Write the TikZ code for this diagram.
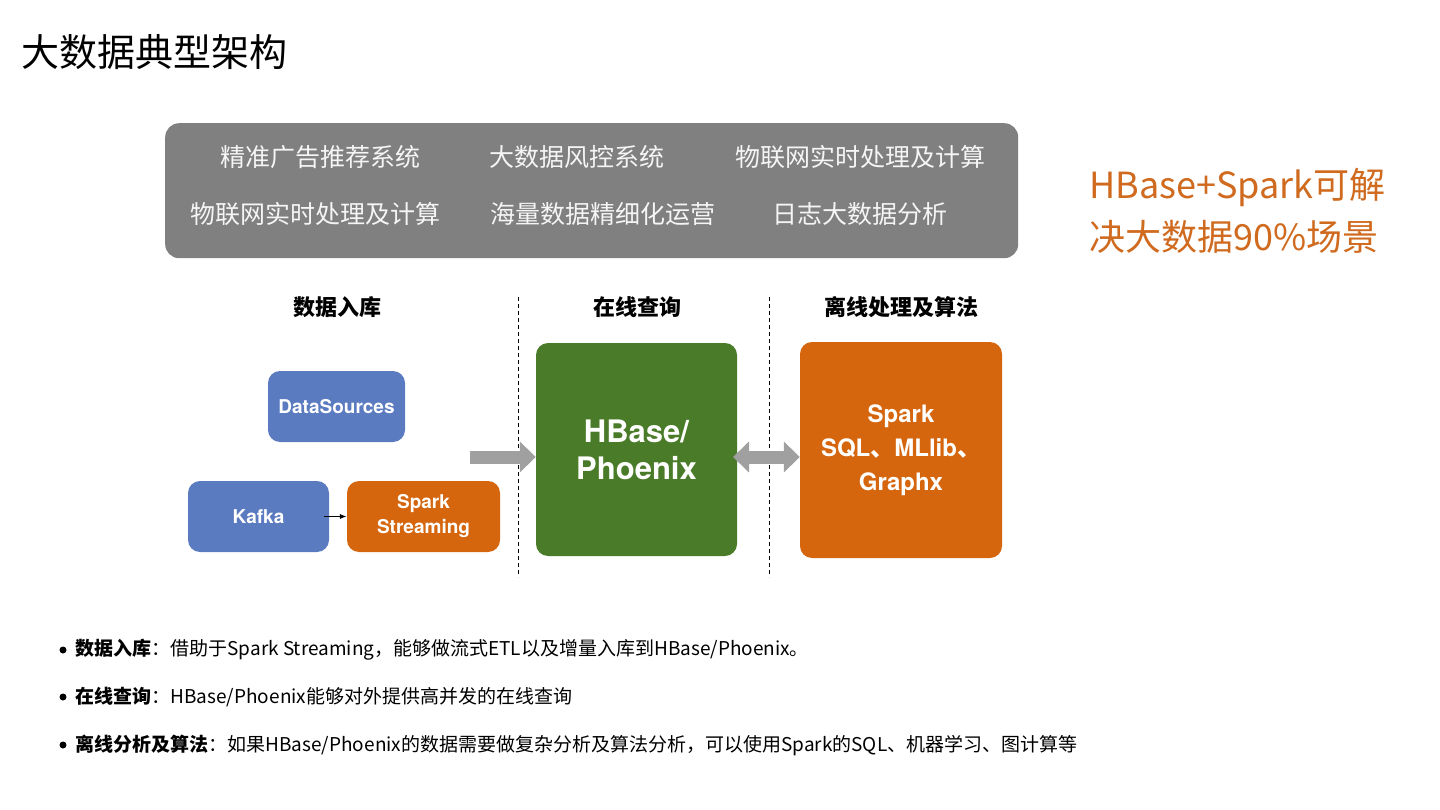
\documentclass[tikz,border=0pt]{standalone}
\usepackage{fontspec}
\setmainfont{Noto Sans CJK SC}
\newfontfamily\heros{TeX Gyre Heros}
\newfontfamily\cjk{Noto Sans CJK SC}
\usetikzlibrary{arrows.meta}
\definecolor{gbox}{HTML}{808080}
\definecolor{bluebox}{HTML}{5B7BC0}
\definecolor{orbox}{HTML}{D5660E}
\definecolor{grbox}{HTML}{4A7B28}
\definecolor{ortext}{HTML}{D06A1E}
\definecolor{arrgray}{HTML}{A0A0A0}
\tikzset{
  box/.style={rounded corners=12pt,draw=none,text=white,font=\heros\bfseries,align=center,inner sep=0pt},
  apptext/.style={text=white!92!gray,font=\fontsize{25}{30}\selectfont,anchor=center},
  head/.style={font=\fontsize{22}{26}\selectfont\bfseries,anchor=center},
  bul/.style={anchor=west,font=\fontsize{19}{24}\selectfont},
  sep/.style={dashed,line width=1pt,dash pattern=on 4pt off 3pt},
  fat/.style={line width=13pt,draw=arrgray,-{Triangle[length=16pt,width=30pt]}},
}
\begin{document}
\begin{tikzpicture}[x=1pt,y=-1pt]
\useasboundingbox[fill=white] (0,0) rectangle (1440,810);
\node[anchor=west,font=\fontsize{38}{44}\selectfont] (title) at (18,52) {大数据典型架构};
\node[fill=gbox,rounded corners=14pt,minimum width=853pt,minimum height=135pt,anchor=north west] (apps) at (165,123) {};
\node[apptext] (a1) at (320,157) {精准广告推荐系统};
\node[apptext] (a2) at (577,157) {大数据风控系统};
\node[apptext] (a3) at (860,157) {物联网实时处理及计算};
\node[apptext] (a4) at (315,214) {物联网实时处理及计算};
\node[apptext] (a5) at (603,214) {海量数据精细化运营};
\node[apptext] (a6) at (860,214) {日志大数据分析};
\node[anchor=west,text=ortext,font=\fontsize{36}{52}\selectfont,align=left] (hl) at (1086,211) {HBase+Spark可解\\决大数据90\%场景};
\node[head] (h1) at (337,307) {数据入库};
\node[head] (h2) at (637,307) {在线查询};
\node[head] (h3) at (901,307) {离线处理及算法};
\coordinate (d1t) at (518,297); \coordinate (d1b) at (518,577);
\coordinate (d2t) at (769,297); \coordinate (d2b) at (769,577);
\draw[sep] (d1t) -- (d1b);
\draw[sep] (d2t) -- (d2b);
\node[box,fill=bluebox,minimum width=137pt,minimum height=71pt,font=\heros\bfseries\fontsize{19}{22}\selectfont] (ds) at (336.5,406.5) {DataSources};
\node[box,fill=bluebox,minimum width=141pt,minimum height=71pt,font=\heros\bfseries\fontsize{19}{22}\selectfont] (kafka) at (258.5,516.5) {Kafka};
\node[box,fill=orbox,minimum width=153pt,minimum height=71pt,font=\heros\bfseries\fontsize{19}{25}\selectfont] (ss) at (423.5,516.5) {Spark\\Streaming};
\draw[-{Latex[length=7pt]},line width=1.2pt] (kafka.east) ++(-5,0) -- (ss.west);
\node[box,fill=grbox,minimum width=201pt,minimum height=213pt,font=\heros\bfseries\fontsize{31}{37}\selectfont] (hb) at (636.5,449.5) {HBase/\\Phoenix};
\node[box,fill=orbox,minimum width=202pt,minimum height=216pt,font=\heros\bfseries\fontsize{24}{34}\selectfont] (sp) at (901,450) {Spark\\SQL{\cjk 、}MLlib{\cjk 、}\\Graphx};
\coordinate (fa) at (470,457);
\draw[fat] (fa) -- (fa -| hb.west);
\coordinate (da) at (733,457);
\draw[line width=13pt,draw=arrgray,{Triangle[length=16pt,width=30pt]}-{Triangle[length=16pt,width=30pt]}] (da) -- (da -| sp.west);
\fill (63,650) circle (3.5pt);
\node[bul] (b1) at (72,650) {\textbf{数据入库}：借助于Spark Streaming，能够做流式ETL以及增量入库到HBase/Phoenix。};
\fill (63,697) circle (3.5pt);
\node[bul] (b2) at (72,697) {\textbf{在线查询}：HBase/Phoenix能够对外提供高并发的在线查询};
\fill (63,745) circle (3.5pt);
\node[bul] (b3) at (72,745) {\textbf{离线分析及算法}：如果HBase/Phoenix的数据需要做复杂分析及算法分析，可以使用Spark的SQL、机器学习、图计算等};
\end{tikzpicture}
\end{document}
